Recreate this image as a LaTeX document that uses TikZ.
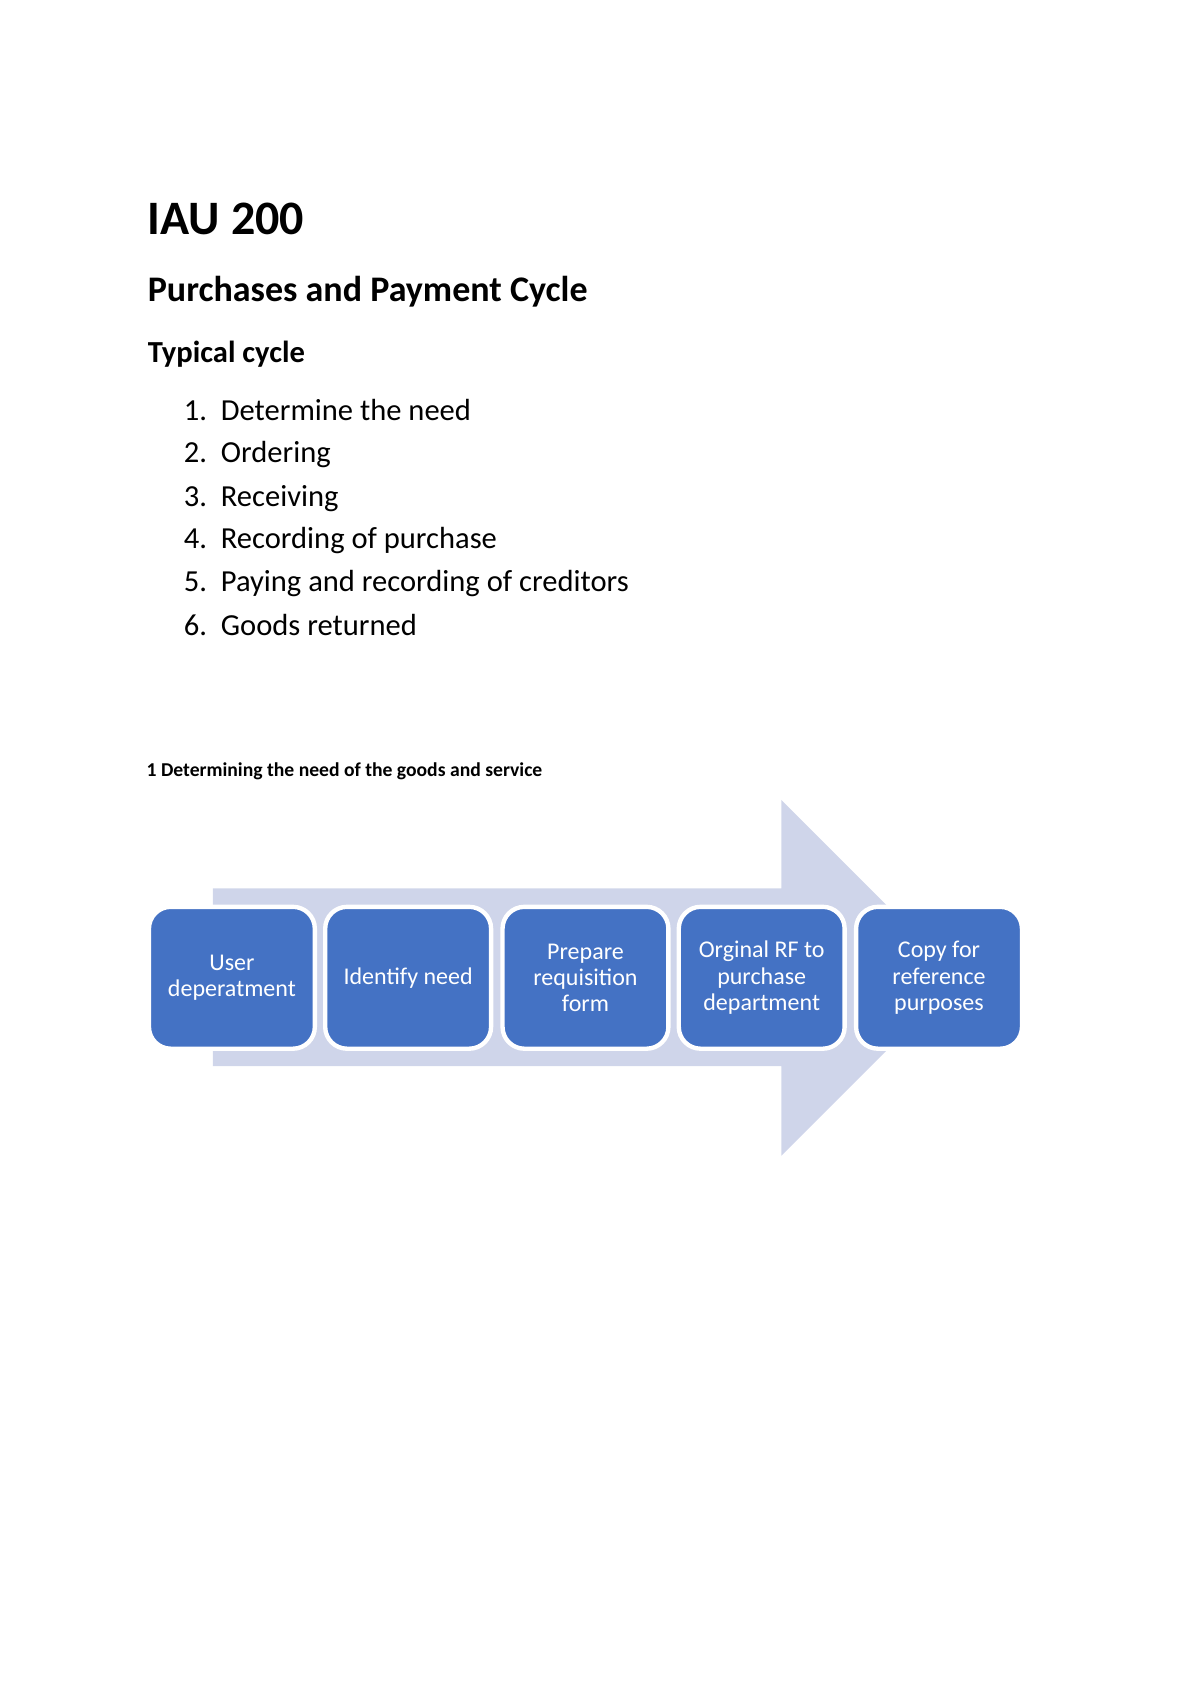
\documentclass[tikz,border=0pt]{standalone}
\usepackage{fontspec}
\setmainfont{Carlito}
\definecolor{boxblue}{RGB}{68,114,196}
\definecolor{arrowgray}{RGB}{207,213,234}
\begin{document}
\begin{tikzpicture}[x=0.5pt,y=-0.5pt,
  box/.style={draw=white,line width=2pt,fill=boxblue,rounded corners=10pt,minimum width=76pt,minimum height=65pt,text=white,align=center,font=\fontsize{11}{12}\selectfont,inner sep=2pt},
  txt/.style={anchor=base west,inner sep=0pt}]
\useasboundingbox (0,0) rectangle (1100,1556);
\node[txt,font=\fontsize{22}{24}\bfseries\selectfont] (t1) at (135,215) {IAU 200};
\node[txt,font=\fontsize{16.5}{18}\bfseries\selectfont] (t2) at (135,276) {Purchases and Payment Cycle};
\node[txt,font=\fontsize{14}{16}\bfseries\selectfont] (t3) at (135,332) {Typical cycle};
\foreach \i/\s [count=\k] in {385/Determine the need,424/Ordering,464/Receiving,503/Recording of purchase,542/Paying and recording of creditors,582/Goods returned}{
  \node[txt,font=\fontsize{14}{16}\selectfont] (n\k) at (168,\i) {\k.};
  \node[txt,font=\fontsize{14}{16}\selectfont] (l\k) at (202,\i) {\s};
}
\node[txt,font=\fontsize{9}{11}\bfseries\selectfont] (h) at (134,712) {1 Determining the need of the goods and service};
\fill[arrowgray] (195,814) -- (716,814) -- (716,733) -- (879,896) -- (716,1059) -- (716,977) -- (195,977) -- cycle;
\node[box] (b1) at (212.5,896) {User\\deperatment};
\node[box] (b2) at (374,896) {Identify need};
\node[box] (b3) at (536.5,896) {Prepare\\requisition\\form};
\node[box] (b4) at (698,896) {Orginal RF to\\purchase\\department};
\node[box] (b5) at (860.5,896) {Copy for\\reference\\purposes};
\end{tikzpicture}
\end{document}
